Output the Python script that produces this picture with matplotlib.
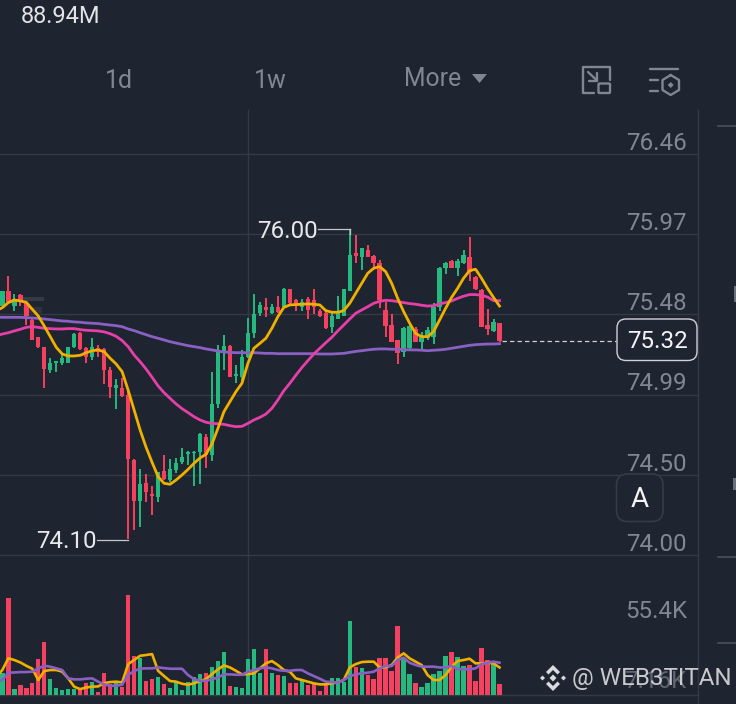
import numpy as np
import matplotlib
matplotlib.use("Agg")
import matplotlib.pyplot as plt
from matplotlib.patches import FancyBboxPatch, Polygon, Rectangle

plt.rcParams['font.family'] = ['Roboto', 'DejaVu Sans']

BG = '#1e2530'
GRID = '#333a46'
GREEN = '#26b97f'
RED = '#f6405f'
YELLOW = '#f0b000'
MAGENTA = '#e63fa8'
PURPLE = '#8a60c4'
GRAY = '#7f8792'

opens = [75.531, 75.623, 75.531, 75.599, 75.548, 75.446, 75.340, 75.279, 75.140, 75.185,
         75.185, 75.185, 75.279, 75.368, 75.275, 75.222, 75.273, 75.267, 75.140, 75.028,
         75.028, 74.988, 74.590, 74.342, 74.448, 74.383, 74.362, 74.525, 74.468, 74.529,
         74.580, 74.625, 74.631, 74.641, 74.733, 74.621, 74.933, 75.258, 75.287, 75.104,
         75.100, 75.218, 75.364, 75.487, 75.523, 75.487, 75.523, 75.523, 75.633, 75.568,
         75.523, 75.574, 75.568, 75.503, 75.487, 75.401, 75.454, 75.470, 75.625, 75.853,
         75.829, 75.874, 75.839, 75.792, 75.507, 75.415, 75.324, 75.252, 75.273, 75.389,
         75.313, 75.334, 75.344, 75.523, 75.762, 75.808, 75.762, 75.792, 75.833, 75.711,
         75.629, 75.415, 75.381, 75.425]
closes = [75.623, 75.558, 75.572, 75.568, 75.470, 75.324, 75.279, 75.144, 75.185, 75.193,
          75.212, 75.279, 75.360, 75.267, 75.222, 75.283, 75.252, 75.140, 75.039, 75.049,
          74.981, 74.594, 74.342, 74.444, 74.397, 74.370, 74.519, 74.472, 74.533, 74.574,
          74.611, 74.637, 74.641, 74.747, 74.621, 74.933, 75.263, 75.287, 75.100, 75.116,
          75.218, 75.364, 75.483, 75.538, 75.507, 75.523, 75.497, 75.635, 75.548, 75.531,
          75.558, 75.507, 75.523, 75.470, 75.399, 75.470, 75.487, 75.633, 75.843, 75.837,
          75.884, 75.833, 75.792, 75.568, 75.409, 75.313, 75.246, 75.395, 75.409, 75.313,
          75.344, 75.385, 75.523, 75.766, 75.792, 75.766, 75.808, 75.841, 75.741, 75.633,
          75.405, 75.391, 75.432, 75.320]
highs = [75.623, 75.715, 75.605, 75.605, 75.548, 75.466, 75.344, 75.283, 75.212, 75.197,
         75.232, 75.283, 75.364, 75.375, 75.283, 75.334, 75.293, 75.273, 75.161, 75.083,
         75.093, 75.018, 74.594, 74.533, 74.505, 74.431, 74.519, 74.621, 74.594, 74.601,
         74.662, 74.647, 74.647, 74.753, 74.749, 75.130, 75.293, 75.354, 75.293, 75.171,
         75.263, 75.456, 75.605, 75.554, 75.582, 75.542, 75.593, 75.644, 75.635, 75.572,
         75.572, 75.584, 75.633, 75.511, 75.503, 75.487, 75.593, 75.635, 76.002, 75.965,
         75.884, 75.904, 75.843, 75.813, 75.558, 75.481, 75.324, 75.401, 75.421, 75.401,
         75.375, 75.401, 75.548, 75.772, 75.802, 75.813, 75.817, 75.874, 75.955, 75.715,
         75.633, 75.511, 75.450, 75.430]
lows = [75.531, 75.548, 75.503, 75.531, 75.415, 75.324, 75.273, 75.032, 75.120, 75.130,
        75.171, 75.181, 75.273, 75.263, 75.181, 75.201, 75.222, 75.053, 74.971, 74.902,
        74.977, 74.105, 74.163, 74.183, 74.336, 74.252, 74.332, 74.468, 74.458, 74.509,
        74.564, 74.560, 74.431, 74.442, 74.544, 74.584, 74.906, 75.140, 75.096, 75.063,
        75.053, 75.212, 75.334, 75.470, 75.466, 75.481, 75.491, 75.517, 75.531, 75.503,
        75.503, 75.454, 75.481, 75.462, 75.391, 75.364, 75.450, 75.470, 75.625, 75.796,
        75.751, 75.833, 75.762, 75.517, 75.344, 75.309, 75.175, 75.222, 75.267, 75.309,
        75.263, 75.324, 75.299, 75.503, 75.725, 75.762, 75.715, 75.788, 75.684, 75.629,
        75.401, 75.354, 75.371, 75.313]

# moving averages start one candle before the first one, off the left edge
ma_fast = [75.503, 75.521, 75.552, 75.568, 75.562, 75.554, 75.511, 75.470, 75.409, 75.344,
           75.279, 75.238, 75.226, 75.226, 75.230, 75.246, 75.258, 75.263, 75.252, 75.212,
           75.177, 75.130, 75.018, 74.896, 74.774, 74.668, 74.576, 74.489, 74.448, 74.442,
           74.468, 74.499, 74.533, 74.570, 74.603, 74.625, 74.688, 74.784, 74.886, 74.947,
           75.008, 75.059, 75.181, 75.273, 75.303, 75.334, 75.395, 75.466, 75.523, 75.538,
           75.540, 75.542, 75.544, 75.542, 75.538, 75.503, 75.493, 75.493, 75.503, 75.548,
           75.609, 75.670, 75.731, 75.762, 75.772, 75.741, 75.670, 75.578, 75.497, 75.426,
           75.364, 75.344, 75.344, 75.375, 75.446, 75.517, 75.584, 75.639, 75.701, 75.747,
           75.756, 75.701, 75.639, 75.584, 75.531]
ma_mid = [75.350, 75.360, 75.368, 75.379, 75.389, 75.401, 75.405, 75.401, 75.395, 75.393,
          75.391, 75.391, 75.393, 75.393, 75.387, 75.383, 75.381, 75.379, 75.373, 75.362,
          75.346, 75.320, 75.283, 75.232, 75.191, 75.146, 75.096, 75.043, 75.002, 74.967,
          74.933, 74.904, 74.880, 74.855, 74.835, 74.821, 74.814, 74.812, 74.808, 74.800,
          74.794, 74.796, 74.814, 74.835, 74.851, 74.871, 74.906, 74.957, 75.014, 75.059,
          75.108, 75.155, 75.197, 75.238, 75.273, 75.307, 75.340, 75.379, 75.415, 75.452,
          75.487, 75.507, 75.527, 75.548, 75.560, 75.566, 75.564, 75.558, 75.552, 75.546,
          75.542, 75.536, 75.531, 75.533, 75.544, 75.552, 75.562, 75.578, 75.591, 75.601,
          75.601, 75.597, 75.586, 75.564, 75.564]
ma_slow = [75.464, 75.462, 75.462, 75.462, 75.462, 75.460, 75.458, 75.456, 75.452, 75.448,
           75.444, 75.440, 75.438, 75.434, 75.432, 75.428, 75.426, 75.424, 75.419, 75.415,
           75.411, 75.405, 75.391, 75.381, 75.368, 75.356, 75.344, 75.334, 75.324, 75.313,
           75.305, 75.297, 75.289, 75.283, 75.277, 75.269, 75.263, 75.256, 75.250, 75.248,
           75.246, 75.246, 75.246, 75.246, 75.244, 75.242, 75.242, 75.240, 75.240, 75.240,
           75.240, 75.240, 75.240, 75.240, 75.238, 75.238, 75.238, 75.240, 75.242, 75.248,
           75.254, 75.258, 75.263, 75.267, 75.269, 75.269, 75.267, 75.267, 75.265, 75.263,
           75.263, 75.261, 75.258, 75.261, 75.263, 75.267, 75.273, 75.279, 75.285, 75.291,
           75.295, 75.297, 75.299, 75.299, 75.301]

volumes = [17.2, 75.7, 4.7, 8.3, 5.7, 9.4, 28.1, 41.9, 12.5, 5.7,
           4.2, 5.2, 4.7, 4.7, 9.9, 10.7, 2.6, 17.7, 8.8, 9.4,
           6.2, 78.3, 30.7, 28.9, 11.4, 12.5, 14.0, 8.8, 5.5, 11.4,
           4.2, 10.4, 14.0, 16.6, 17.7, 22.4, 26.8, 33.8, 7.3, 6.2,
           5.5, 28.1, 35.9, 17.2, 35.9, 17.2, 15.9, 15.1, 9.4, 9.4,
           11.4, 8.3, 9.4, 3.1, 8.1, 13.3, 13.3, 10.7, 58.0, 22.4,
           21.1, 15.9, 12.5, 28.9, 28.9, 19.2, 54.1, 28.9, 16.4, 9.4,
           6.8, 9.9, 16.6, 19.2, 30.7, 33.5, 30.2, 22.9, 23.9, 11.2,
           36.7, 27.6, 25.0, 8.8]
vol_fast = [14.6, 19.8, 28.9, 27.6, 25.7, 23.1, 20.8, 12.0, 19.0, 19.8,
            19.8, 18.5, 13.3, 6.8, 4.9, 6.2, 6.8, 7.0, 9.6, 10.4,
            10.7, 10.1, 24.4, 27.6, 30.9, 31.5, 32.2, 19.2, 15.1, 11.2,
            10.7, 9.1, 8.3, 9.4, 11.2, 12.7, 16.6, 20.3, 23.4, 21.8,
            19.2, 16.4, 16.6, 17.2, 21.1, 25.0, 26.8, 23.7, 19.8, 18.5,
            13.3, 12.0, 10.7, 9.4, 8.6, 8.6, 9.4, 10.1, 12.0, 21.8,
            24.4, 26.0, 26.3, 26.3, 21.8, 21.8, 23.7, 29.6, 32.8, 28.9,
            26.3, 23.7, 15.9, 12.0, 12.0, 15.9, 22.4, 26.8, 27.6, 28.6,
            25.0, 25.0, 25.5, 25.0, 21.8]
vol_slow = [10.7, 12.0, 17.7, 17.9, 18.2, 18.2, 18.5, 21.1, 23.1, 22.4,
            21.1, 19.8, 13.3, 12.5, 12.5, 13.0, 13.3, 10.7, 8.6, 7.5,
            7.5, 8.3, 15.9, 19.0, 20.8, 21.1, 21.1, 21.8, 21.3, 20.8,
            20.8, 20.8, 15.9, 12.7, 11.4, 11.4, 12.5, 14.0, 16.4, 16.4,
            16.1, 16.1, 18.5, 19.8, 21.1, 21.8, 21.1, 19.8, 19.2, 19.2,
            19.8, 19.8, 17.2, 15.1, 13.0, 10.7, 10.4, 9.9, 12.0, 15.1,
            16.4, 17.2, 17.7, 18.5, 21.1, 22.9, 22.9, 27.6, 29.4, 25.5,
            23.7, 22.4, 22.4, 22.4, 21.8, 21.8, 22.9, 20.5, 20.3, 20.3,
            21.1, 24.4, 25.5, 26.3, 25.5]

grid_levels = [76.46, 75.97, 75.48, 74.99, 74.50, 74.01]
grid_labels = ['76.46', '75.97', '75.48', '74.99', '74.50', '74.00']
last_price = 75.32
high_mark = 76.00
low_mark = 74.10

W, H = 736, 704
TEXT = 17.4
fig = plt.figure(figsize=(W / 100, H / 100), dpi=100, facecolor=BG)


def px_axes(left, top, right, bottom):
    return fig.add_axes([left / W, 1 - bottom / H, (right - left) / W, (bottom - top) / H])


def show_text(ax, x, y, s, size, color, ha='center', **kw):
    ax.text(x, y + 2, s, fontsize=size, color=color, ha=ha, va='center', **kw)


# pixel layers, one below the chart and one above it
under = px_axes(0, 0, W, H)
over = px_axes(0, 0, W, H)
for a in (under, over):
    a.set_xlim(0, W)
    a.set_ylim(H, 0)
    a.axis('off')
under.set_zorder(0)

ax = px_axes(0, 110, 698, 560)
vol = px_axes(0, 580, 698, 695.4)
for a in (ax, vol):
    a.patch.set_alpha(0)
    a.set_zorder(1)
    a.set_xticks([])
    a.set_yticks([])
    for s in a.spines.values():
        s.set_visible(False)
over.set_zorder(2)

x0 = -2.33 / 5.99
x1 = (698 - 2.33) / 5.99
idx = np.arange(len(opens))
ma_idx = np.arange(-1, len(opens))

ax.set_xlim(x0, x1)
ax.set_ylim(76.46 - (560 - 154) * 0.00611, 76.46 + 44 * 0.00611)
vol.set_xlim(x0, x1)
vol.set_ylim(0, 90)

# grid
for lev, lab in zip(grid_levels, grid_labels):
    ax.axhline(lev, color=GRID, lw=1.0, zorder=1)
    ax.annotate(lab, xy=(1, lev), xycoords=('axes fraction', 'data'), xytext=(-8, 7.7),
                textcoords='offset points', ha='right', va='center', fontsize=TEXT, color=GRAY)
under.plot([248, 248], [110, 695], color=GRID, lw=1.0)
under.plot([698, 698], [110, 704], color=GRID, lw=1.0)
under.plot([0, 698], [695.4, 695.4], color=GRID, lw=1.0)

# faded ghost marks behind the first candles
under.add_patch(Rectangle((23, 297), 21, 4, color='#343b46', lw=0))
under.add_patch(Rectangle((23, 307), 19, 6, color='#2c333e', lw=0))

# candles
colors = [GREEN if c >= o else RED for o, c in zip(opens, closes)]
ax.vlines(idx, lows, highs, colors=colors, lw=1.4, zorder=3)
tops = np.maximum(opens, closes)
bots = np.minimum(opens, closes)
ax.bar(idx, tops - bots, bottom=bots, width=0.74, color=colors, lw=0, zorder=3)

ax.plot(ma_idx, ma_slow, color=PURPLE, lw=2.0, zorder=4)
ax.plot(ma_idx, ma_mid, color=MAGENTA, lw=2.0, zorder=5)
ax.plot(ma_idx, ma_fast, color=YELLOW, lw=2.0, zorder=6)

# high and low markers
ax.plot([52.7, 58], [high_mark, high_mark], color='#c4c8cc', lw=0.9, zorder=7)
ax.plot([58, 58], [high_mark, high_mark - 0.03], color='#c4c8cc', lw=0.9, zorder=7)
ax.plot([15.8, 21], [low_mark, low_mark], color='#c4c8cc', lw=0.9, zorder=7)
show_text(over, 318, 229, '76.00', TEXT, '#e6e8ea', ha='right')
show_text(over, 97, 539.5, '74.10', TEXT, '#e6e8ea', ha='right')

# volume
vol.bar(idx, volumes, width=0.74, color=colors, lw=0, zorder=3)
vol.plot(ma_idx, vol_fast, color=YELLOW, lw=1.9, zorder=4)
vol.plot(ma_idx, vol_slow, color=PURPLE, lw=1.9, zorder=5)
show_text(under, 687, 610, '55.4K', TEXT, GRAY, ha='right')
show_text(under, 686, 680, '7.16K', TEXT, '#5f6670', ha='right')

# last price
ax.plot([83.5, 102.5], [last_price, last_price], color='#d0d3d6', lw=0.9,
        dashes=(3.5, 2.5), zorder=7)
over.add_patch(FancyBboxPatch((617, 319), 80, 41.5, boxstyle='round,pad=0,rounding_size=9',
                              fc=BG, ec='#cfd2d6', lw=1.0))
show_text(over, 657, 339, '75.32', TEXT, '#f4f5f6')

# auto button
over.add_patch(FancyBboxPatch((616.5, 474), 46.5, 47.5, boxstyle='round,pad=0,rounding_size=11',
                              fc=BG, ec='#343c48', lw=1.2))
show_text(over, 640, 497.5, 'A', 20, '#f2f3f4')

# header
show_text(over, 21, 14.5, '88.94M', 17, '#e2e4e7', ha='left')
show_text(over, 119, 78.5, '1d', 18, GRAY)
show_text(over, 270, 78.5, '1w', 18, GRAY)
show_text(over, 433, 76.5, 'More', 17.8, GRAY)
over.add_patch(Polygon([(472, 74), (487, 74), (479.5, 83)], color=GRAY, lw=0))

# header icons
ic = dict(color=GRAY, lw=1.7, solid_capstyle='round', solid_joinstyle='round')
over.plot([594, 583, 583, 610, 610], [92.7, 92.7, 66.7, 66.7, 79.5], **ic)
over.add_patch(FancyBboxPatch((598.5, 83.5), 11.5, 9.5, boxstyle='round,pad=0,rounding_size=1',
                              fc='none', ec=GRAY, lw=1.7))
over.plot([588, 597], [72, 80.5], **ic)
over.plot([589, 597, 597], [80.5, 80.5, 73], **ic)
over.plot([650, 678], [68.5, 68.5], **ic)
over.plot([650, 658], [80, 80], **ic)
over.plot([650, 658], [91, 91], **ic)
hex_x = [670.7, 679, 679, 670.7, 662.5, 662.5, 670.7]
hex_y = [75, 80, 90, 95, 90, 80, 75]
over.plot(hex_x, hex_y, **ic)
over.add_patch(Polygon([(670.7, 82), (673.7, 85), (670.7, 88), (667.7, 85)], color=GRAY, lw=0))

# cut-off bits of the next panel
for y in (125.5, 557, 643):
    over.plot([718, 736], [y, y], color='#4a515c', lw=1.2)
over.add_patch(Rectangle((734, 286), 2, 16, color='#6a717c', lw=0))
over.add_patch(Rectangle((733, 478), 3, 12, color='#6a717c', lw=0))

# watermark
mark = '#d9dbde'
cx, cy = 553, 678
over.add_patch(Polygon([(cx, cy - 3.5), (cx + 3.5, cy), (cx, cy + 3.5), (cx - 3.5, cy)], color=mark, lw=0))
over.add_patch(Polygon([(cx - 13, cy), (cx - 10.5, cy - 2.5), (cx - 8, cy), (cx - 10.5, cy + 2.5)], color=mark, lw=0))
over.add_patch(Polygon([(cx + 13, cy), (cx + 10.5, cy - 2.5), (cx + 8, cy), (cx + 10.5, cy + 2.5)], color=mark, lw=0))
over.add_patch(Polygon([(cx, cy - 13), (cx + 7, cy - 6), (cx + 4.5, cy - 3.5), (cx, cy - 8),
                        (cx - 4.5, cy - 3.5), (cx - 7, cy - 6)], color=mark, lw=0))
over.add_patch(Polygon([(cx, cy + 13), (cx + 7, cy + 6), (cx + 4.5, cy + 3.5), (cx, cy + 8),
                        (cx - 4.5, cy + 3.5), (cx - 7, cy + 6)], color=mark, lw=0))
show_text(over, 572, 676.5, '@ WEB3TITAN', 17.4, mark, ha='left', alpha=0.9)

fig.savefig('out.png', dpi=100, facecolor=BG)
